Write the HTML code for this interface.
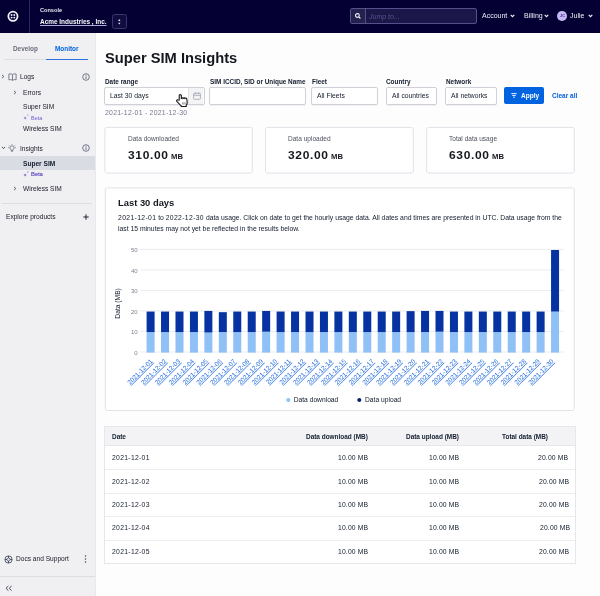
<!DOCTYPE html>
<html><head><meta charset="utf-8">
<style>
*{box-sizing:border-box;margin:0;padding:0}
html,body{width:600px;height:596px;overflow:hidden;background:#fff;font-family:"Liberation Sans",sans-serif;color:#121c2d}
.a{position:absolute;white-space:nowrap;will-change:transform}
#hdr{position:absolute;left:0;top:0;width:600px;height:33.4px;background:#050034}
#side{position:absolute;left:0;top:33px;width:96px;height:563px;background:#f0eff2;border-right:1px solid #e9e8ed}
#main{position:absolute;left:96px;top:33px;width:504px;height:563px;background:#fdfdfd}
.lbl{font-size:6.4px;font-weight:bold;color:#121c2d}
.inp{position:absolute;top:87px;height:18px;border:1px solid #cfd1d9;box-shadow:0 0.5px 1px rgba(0,0,0,0.06);border-radius:2px;background:#fff;font-size:6.8px;color:#121c2d;line-height:14.8px;padding-left:5.5px}
.card{position:absolute;border:1px solid #e1e3ea;border-radius:2px;background:#fff}
.st{font-size:6.55px;color:#4f525f}
.sv{font-size:10px;font-weight:bold;color:#15181f;transform:scaleX(1.2);transform-origin:0 0;letter-spacing:0.55px}
.mb{font-size:6.7px;font-weight:bold;color:#15181f;transform:scaleX(1.15);transform-origin:0 0}
.sb{font-size:7px;color:#3b4357}
.tbl{position:absolute;left:104px;top:426px;width:471.6px;height:138px;border:1px solid #e6e7ec;background:#fff}
</style></head><body>
<!-- HEADER -->
<div id="hdr">
  <svg class="a" style="left:0;top:0" width="28" height="33" viewBox="0 0 28 33">
    <circle cx="12.95" cy="16.3" r="4.6" fill="none" stroke="#f4f3fb" stroke-width="1.8"/>
    <circle cx="11.6" cy="15" r="0.95" fill="#f4f3fb"/><circle cx="14.3" cy="15" r="0.95" fill="#f4f3fb"/>
    <circle cx="11.6" cy="17.6" r="0.95" fill="#f4f3fb"/><circle cx="14.3" cy="17.6" r="0.95" fill="#f4f3fb"/>
  </svg>
  <div class="a" style="left:28.7px;top:0;width:1px;height:33.4px;background:#2b2763"></div>
  <div class="a" style="left:40px;top:6.5px;font-size:5.6px;font-weight:bold;color:#e6e6ee">Console</div>
  <div class="a" style="left:40px;top:18.1px;font-size:6.45px;font-weight:bold;color:#fbfbff;text-decoration:underline;text-decoration-color:#aeabd6;text-decoration-thickness:0.8px;text-underline-offset:1.3px">Acme Industries , Inc.</div>
  <div class="a" style="left:112px;top:14.1px;width:15px;height:15px;border-radius:2.5px;background:#100c40;border:1px solid #3a3670"></div>
  <svg class="a" style="left:117px;top:17.5px" width="5" height="8" viewBox="0 0 5 8"><path d="M2.3 1.1 L3.5 2.9 H1.1 Z M2.3 6.6 L3.5 4.8 H1.1 Z" fill="#e6e5f2"/></svg>
  <!-- search -->
  <div class="a" style="left:349.5px;top:8.3px;width:127px;height:15.6px;border:1px solid #54508a;border-radius:2px;background:#1b1849"></div>
  <div class="a" style="left:350.5px;top:9.3px;width:15.3px;height:13.6px;background:#24214f;border-right:1px solid #54508a"></div>
  <svg class="a" style="left:354px;top:11.8px" width="8" height="8" viewBox="0 0 8 8"><circle cx="3.4" cy="3.5" r="1.9" fill="none" stroke="#f2f1fa" stroke-width="1.1"/><path d="M4.8 4.9 L6.4 6.5" stroke="#f2f1fa" stroke-width="1.1"/></svg>
  <div class="a" style="left:369px;top:12.9px;font-size:7px;font-style:italic;color:#57538a">Jump to...</div>
  <div class="a" style="left:482px;top:12.4px;font-size:7px;color:#ececf4">Account</div>
  <svg class="a" style="left:510px;top:14px" width="5" height="4" viewBox="0 0 5 4"><path d="M0.7 0.9 L2.5 2.7 L4.3 0.9" fill="none" stroke="#f0f0f6" stroke-width="1.15"/></svg>
  <div class="a" style="left:523.5px;top:12.4px;font-size:7px;color:#ececf4">Billing</div>
  <svg class="a" style="left:544px;top:14px" width="5" height="4" viewBox="0 0 5 4"><path d="M0.7 0.9 L2.5 2.7 L4.3 0.9" fill="none" stroke="#f0f0f6" stroke-width="1.15"/></svg>
  <div class="a" style="left:557.4px;top:11.2px;width:9.8px;height:9.8px;border-radius:50%;background:#c6b6f2"></div>
  <div class="a" style="left:559.8px;top:13.9px;font-size:4.2px;line-height:1;font-weight:bold;color:#4a3596">JC</div>
  <div class="a" style="left:570px;top:12.4px;font-size:7px;color:#ececf4">Julie</div>
  <svg class="a" style="left:587.8px;top:14px" width="5" height="4" viewBox="0 0 5 4"><path d="M0.7 0.9 L2.5 2.7 L4.3 0.9" fill="none" stroke="#f0f0f6" stroke-width="1.15"/></svg>
</div>

<!-- SIDEBAR -->
<div id="side"></div>
<!-- SIDEBAR CONTENT -->
<div class="a" style="left:12.5px;top:45.68px;font-size:6.4px;line-height:1;color:#6a6d7c;font-weight:bold;">Develop</div>
<div class="a" style="left:55.2px;top:45.68px;font-size:6.4px;line-height:1;color:#0263e0;font-weight:bold;">Monitor</div>
<div class="a" style="left:4px;top:58.8px;width:42.5px;height:1px;background:#dcdde3"></div>
<div class="a" style="left:46.4px;top:58.5px;width:42px;height:1.4px;background:#2d72df"></div>
<svg class="a" style="left:1.2px;top:74.2px" width="4" height="5" viewBox="0 0 4 5"><path d="M1.1 0.9 L2.8 2.5 L1.1 4.1" fill="none" stroke="#4b5265" stroke-width="1"/></svg>
<svg class="a" style="left:7.5px;top:72.8px" width="9" height="8" viewBox="0 0 9 8"><path d="M4.5 1.5 C3.4 0.8 2.1 0.7 0.9 1 V6.8 C2.1 6.5 3.4 6.6 4.5 7.3 C5.6 6.6 6.9 6.5 8.1 6.8 V1 C6.9 0.7 5.6 0.8 4.5 1.5 Z M4.5 1.5 V7.2" fill="none" stroke="#5b6275" stroke-width="0.8"/></svg>
<div class="a" style="left:20px;top:74.31px;font-size:6.6px;line-height:1;color:#181c28;">Logs</div>
<svg class="a" style="left:81.8px;top:72.70px" width="8" height="8" viewBox="0 0 8 8"><circle cx="4" cy="4" r="3.3" fill="none" stroke="#4b5265" stroke-width="0.75"/><path d="M4 3.5 V5.9" stroke="#4b5265" stroke-width="0.85"/><circle cx="4" cy="2.35" r="0.5" fill="#4b5265"/></svg>
<svg class="a" style="left:13.2px;top:89.8px" width="4" height="5" viewBox="0 0 4 5"><path d="M1.1 0.9 L2.8 2.5 L1.1 4.1" fill="none" stroke="#4b5265" stroke-width="1"/></svg>
<div class="a" style="left:22.5px;top:89.81px;font-size:6.6px;line-height:1;color:#181c28;">Errors</div>
<div class="a" style="left:22.5px;top:103.91px;font-size:6.6px;line-height:1;color:#181c28;">Super SIM</div>
<svg class="a" style="left:22px;top:113.30px" width="8" height="8" viewBox="0 0 8 8"><path d="M3.1 3.3 L3.55 4.55 L4.8 5 L3.55 5.45 L3.1 6.7 L2.65 5.45 L1.4 5 L2.65 4.55Z" fill="#7a68d8"/><path d="M5.9 1.1 L6.15 1.75 L6.8 2 L6.15 2.25 L5.9 2.9 L5.65 2.25 L5 2 L5.65 1.75Z" fill="#7a68d8"/></svg>
<div class="a" style="left:31px;top:116.34px;font-size:5.5px;line-height:1;color:#6f5fd0;">Beta</div>
<div class="a" style="left:22.5px;top:126.41px;font-size:6.6px;line-height:1;color:#181c28;">Wireless SIM</div>
<svg class="a" style="left:0.5px;top:146.2px" width="5" height="4" viewBox="0 0 5 4"><path d="M0.9 0.9 L2.5 2.6 L4.1 0.9" fill="none" stroke="#4b5265" stroke-width="1"/></svg>
<svg class="a" style="left:7.8px;top:144.2px" width="8" height="8.5" viewBox="0 0 8 8.5"><path d="M2.4 4.9 C1.4 3.9 1.7 1.9 4 1.9 C6.3 1.9 6.6 3.9 5.6 4.9 C5.1 5.4 5.1 5.8 5.1 6.3 H2.9 C2.9 5.8 2.9 5.4 2.4 4.9 Z M3.1 7.3 H4.9" fill="none" stroke="#5b6275" stroke-width="0.75"/><path d="M4 0.1 V1 M0.8 1.2 L1.4 1.8 M7.2 1.2 L6.6 1.8 M0 3.6 H0.8 M8 3.6 H7.2" stroke="#5b6275" stroke-width="0.65"/></svg>
<div class="a" style="left:20px;top:145.61px;font-size:6.6px;line-height:1;color:#181c28;">Insights</div>
<svg class="a" style="left:81.8px;top:144.10px" width="8" height="8" viewBox="0 0 8 8"><circle cx="4" cy="4" r="3.3" fill="none" stroke="#4b5265" stroke-width="0.75"/><path d="M4 3.5 V5.9" stroke="#4b5265" stroke-width="0.85"/><circle cx="4" cy="2.35" r="0.5" fill="#4b5265"/></svg>
<div class="a" style="left:0;top:155.7px;width:95px;height:13.6px;background:#dadce4"></div>
<div class="a" style="left:22.5px;top:160.91px;font-size:6.6px;line-height:1;color:#121c2d;font-weight:bold;">Super SIM</div>
<svg class="a" style="left:22px;top:169.50px" width="8" height="8" viewBox="0 0 8 8"><path d="M3.1 3.3 L3.55 4.55 L4.8 5 L3.55 5.45 L3.1 6.7 L2.65 5.45 L1.4 5 L2.65 4.55Z" fill="#6a52c8"/><path d="M5.9 1.1 L6.15 1.75 L6.8 2 L6.15 2.25 L5.9 2.9 L5.65 2.25 L5 2 L5.65 1.75Z" fill="#6a52c8"/></svg>
<div class="a" style="left:31px;top:172.04px;font-size:5.5px;line-height:1;color:#5a42bc;font-weight:bold;">Beta</div>
<svg class="a" style="left:13.2px;top:186.3px" width="4" height="5" viewBox="0 0 4 5"><path d="M1.1 0.9 L2.8 2.5 L1.1 4.1" fill="none" stroke="#4b5265" stroke-width="1"/></svg>
<div class="a" style="left:22.5px;top:186.31px;font-size:6.6px;line-height:1;color:#181c28;">Wireless SIM</div>
<div class="a" style="left:2px;top:203px;width:89.5px;height:1px;background:#dcdde3"></div>
<div class="a" style="left:5.5px;top:214.41px;font-size:6.6px;line-height:1;color:#181c28;">Explore products</div>
<svg class="a" style="left:82.5px;top:214px" width="6" height="6" viewBox="0 0 6 6"><path d="M3 0.3 V5.7 M0.3 3 H5.7" stroke="#121c2d" stroke-width="0.95"/></svg>
<svg class="a" style="left:3.5px;top:554.5px" width="9" height="9" viewBox="0 0 9 9"><circle cx="4.5" cy="4.5" r="3.6" fill="none" stroke="#4b5265" stroke-width="0.9"/><circle cx="4.5" cy="4.5" r="1.5" fill="none" stroke="#4b5265" stroke-width="0.8"/><path d="M4.5 1 V3 M4.5 6 V8 M1 4.5 H3 M6 4.5 H8" stroke="#4b5265" stroke-width="1"/></svg>
<div class="a" style="left:16px;top:556.2px;font-size:6.6px;line-height:1;color:#181c28;">Docs and Support</div>
<svg class="a" style="left:84px;top:555px" width="3" height="8" viewBox="0 0 3 8"><circle cx="1.5" cy="1.1" r="0.75" fill="#3f4557"/><circle cx="1.5" cy="4" r="0.75" fill="#3f4557"/><circle cx="1.5" cy="6.9" r="0.75" fill="#3f4557"/></svg>
<div class="a" style="left:0;top:575.5px;width:95px;height:1px;background:#dcdde3"></div>
<svg class="a" style="left:4.5px;top:585px" width="8" height="7" viewBox="0 0 8 7"><path d="M3.4 1 L1 3.3 L3.4 5.6 M6.6 1 L4.2 3.3 L6.6 5.6" fill="none" stroke="#3f4557" stroke-width="0.95"/></svg>

<!-- MAIN -->
<div id="main"></div>
<!-- MAIN CONTENT -->
<div class="a" style="left:105px;top:50.9px;font-size:14.7px;line-height:1;font-weight:bold;color:#14171f">Super SIM Insights</div>
<div class="a lbl" style="left:105px;top:78.8px;line-height:1">Date range</div>
<div class="a lbl" style="left:210px;top:78.8px;line-height:1">SIM ICCID, SID or Unique Name</div>
<div class="a lbl" style="left:311.7px;top:78.8px;line-height:1">Fleet</div>
<div class="a lbl" style="left:386.3px;top:78.8px;line-height:1">Country</div>
<div class="a lbl" style="left:445.5px;top:78.8px;line-height:1">Network</div>

<div class="inp" style="left:104px;width:100.5px"></div>
<div class="a" style="left:188.3px;top:88px;width:15.2px;height:16px;background:#f4f4f6;border-left:1px solid #e1e3ea"></div>
<svg class="a" style="left:192.5px;top:92px" width="8" height="8" viewBox="0 0 8 8"><rect x="0.6" y="1.3" width="6.8" height="6" rx="0.8" fill="none" stroke="#9ea2b0" stroke-width="0.8"/><path d="M0.6 3.3 H7.4 M2.3 0.3 V2 M5.7 0.3 V2" stroke="#9ea2b0" stroke-width="0.8"/></svg>
<div class="a" style="left:110px;top:93.2px;font-size:6.8px;line-height:1;color:#121c2d">Last 30 days</div>
<div class="inp" style="left:209.3px;width:96.4px"></div>
<div class="inp" style="left:311px;width:67.3px"></div>
<div class="a" style="left:317.3px;top:93.2px;font-size:6.75px;line-height:1">All Fleets</div>
<div class="inp" style="left:386.3px;width:50.7px"></div>
<div class="a" style="left:392.3px;top:93.2px;font-size:6.75px;line-height:1">All countries</div>
<div class="inp" style="left:445px;width:51.5px"></div>
<div class="a" style="left:451px;top:93.2px;font-size:6.75px;line-height:1">All networks</div>
<div class="a" style="left:503.7px;top:87px;width:40.3px;height:17.3px;border-radius:2px;background:#0263e0"></div>
<svg class="a" style="left:511px;top:93px" width="6" height="5" viewBox="0 0 6 5"><path d="M0.3 0.6 H5.7 M1.2 2.4 H4.8 M2.1 4.2 H3.9" stroke="#fff" stroke-width="0.9"/></svg>
<div class="a" style="left:520.7px;top:93.2px;font-size:6.5px;line-height:1;font-weight:bold;color:#fff">Apply</div>
<div class="a" style="left:552px;top:93.2px;font-size:6.5px;line-height:1;font-weight:bold;color:#0263e0">Clear all</div>
<svg class="a" style="left:176.4px;top:94.2px" width="13" height="14" viewBox="0 0 13 14"><path d="M3.2 6.2 V1.6 C3.2 0.3 5.3 0.3 5.3 1.6 V4.6 C5.5 3.5 7 3.5 7.1 4.6 C7.3 3.6 8.8 3.6 8.9 4.7 C9.1 3.8 10.7 3.8 10.8 5 L11.2 8.4 C11.2 9.9 10.7 10.7 10.2 11.4 V12.5 H5.2 V11.7 C4.2 10.9 2.4 8.9 1 7.6 C0.1 6.7 0.9 5.4 2.1 6 Z" fill="#fff" stroke="#151515" stroke-width="1.1" stroke-linejoin="round"/><path d="M6.6 8.3 V10.6 M7.9 8.3 V10.6 M9.2 8.3 V10.6" stroke="#666" stroke-width="0.65"/></svg>
<div class="a" style="left:105px;top:109.8px;font-size:6.9px;line-height:1;color:#767b8e;letter-spacing:0.25px">2021-12-01 - 2021-12-30</div>

<svg class="a" style="left:0;top:0" width="600" height="596" viewBox="0 0 600 596"><rect x="104.9" y="127.4" width="147.40" height="45.65" rx="2" fill="#fff" stroke="#e0e2e8" stroke-width="1"/><rect x="265.6" y="127.4" width="147.70" height="45.65" rx="2" fill="#fff" stroke="#e0e2e8" stroke-width="1"/><rect x="426.7" y="127.4" width="147.60" height="45.65" rx="2" fill="#fff" stroke="#e0e2e8" stroke-width="1"/></svg>
<div class="a st" style="left:128px;top:136.44px;line-height:1">Data downloaded</div>
<div class="a st" style="left:288.2px;top:136.44px;line-height:1">Data uploaded</div>
<div class="a st" style="left:449.3px;top:136.44px;line-height:1">Total data usage</div>
<div class="a sv" style="left:128.0px;top:150.93px;line-height:1">310.00</div>
<div class="a mb" style="left:170.90px;top:153.53px;line-height:1">MB</div>
<div class="a sv" style="left:288.1px;top:150.93px;line-height:1">320.00</div>
<div class="a mb" style="left:331.00px;top:153.53px;line-height:1">MB</div>
<div class="a sv" style="left:449.1px;top:150.93px;line-height:1">630.00</div>
<div class="a mb" style="left:492.00px;top:153.53px;line-height:1">MB</div>

<svg class="a" style="left:0;top:0" width="600" height="596" viewBox="0 0 600 596"><rect x="105.3" y="187.9" width="469.00" height="222.55" rx="2" fill="#fff" stroke="#e0e2e8" stroke-width="1"/></svg>
<div class="a" style="left:117.5px;top:198.3px;font-size:9.4px;line-height:1;font-weight:bold;color:#14171f">Last 30 days</div>
<div class="a" style="left:117.5px;top:212.9px;font-size:6.8px;line-height:10.8px;color:#121c2d;white-space:normal;width:450px"><span style="letter-spacing:0.35px">2021-12-01</span> to <span style="letter-spacing:0.35px">2022-12-30</span> data usage. Click on date to get the hourly usage data. All dates and times are presented in UTC. Data usage from the last 15 minutes may not yet be reflected in the results below.</div>
<!--CHART--><svg class="a" style="left:0;top:0" width="600" height="596" viewBox="0 0 600 596">
<line x1="140" y1="352.00" x2="564" y2="352.00" stroke="#ebecef" stroke-width="1"/>
<text x="137.6" y="354.70" text-anchor="end" font-size="6" fill="#7d818d">0</text>
<line x1="140" y1="331.48" x2="564" y2="331.48" stroke="#ebecef" stroke-width="1"/>
<text x="137.6" y="334.18" text-anchor="end" font-size="6" fill="#7d818d">10</text>
<line x1="140" y1="310.96" x2="564" y2="310.96" stroke="#ebecef" stroke-width="1"/>
<text x="137.6" y="313.66" text-anchor="end" font-size="6" fill="#7d818d">20</text>
<line x1="140" y1="290.44" x2="564" y2="290.44" stroke="#ebecef" stroke-width="1"/>
<text x="137.6" y="293.14" text-anchor="end" font-size="6" fill="#7d818d">30</text>
<line x1="140" y1="269.92" x2="564" y2="269.92" stroke="#ebecef" stroke-width="1"/>
<text x="137.6" y="272.62" text-anchor="end" font-size="6" fill="#7d818d">40</text>
<line x1="140" y1="249.40" x2="564" y2="249.40" stroke="#ebecef" stroke-width="1"/>
<text x="137.6" y="252.10" text-anchor="end" font-size="6" fill="#7d818d">50</text>
<text transform="translate(119.8,303.4) rotate(-90)" text-anchor="middle" font-size="6.7" fill="#121c2d">Data (MB)</text>
<rect x="146.60" y="332.08" width="8" height="20.52" fill="#8fc0f6"/>
<rect x="146.60" y="311.56" width="8" height="20.52" fill="#0632a2"/>
<rect x="161.04" y="332.08" width="8" height="20.52" fill="#8fc0f6"/>
<rect x="161.04" y="311.56" width="8" height="20.52" fill="#0632a2"/>
<rect x="175.49" y="332.08" width="8" height="20.52" fill="#8fc0f6"/>
<rect x="175.49" y="311.56" width="8" height="20.52" fill="#0632a2"/>
<rect x="189.94" y="332.08" width="8" height="20.52" fill="#8fc0f6"/>
<rect x="189.94" y="311.56" width="8" height="20.52" fill="#0632a2"/>
<rect x="204.38" y="332.49" width="8" height="20.11" fill="#8fc0f6"/>
<rect x="204.38" y="310.94" width="8" height="21.55" fill="#0632a2"/>
<rect x="218.82" y="332.08" width="8" height="20.52" fill="#8fc0f6"/>
<rect x="218.82" y="312.18" width="8" height="19.90" fill="#0632a2"/>
<rect x="233.27" y="332.08" width="8" height="20.52" fill="#8fc0f6"/>
<rect x="233.27" y="311.56" width="8" height="20.52" fill="#0632a2"/>
<rect x="247.72" y="332.08" width="8" height="20.52" fill="#8fc0f6"/>
<rect x="247.72" y="311.56" width="8" height="20.52" fill="#0632a2"/>
<rect x="262.16" y="331.67" width="8" height="20.93" fill="#8fc0f6"/>
<rect x="262.16" y="310.94" width="8" height="20.73" fill="#0632a2"/>
<rect x="276.61" y="332.08" width="8" height="20.52" fill="#8fc0f6"/>
<rect x="276.61" y="311.56" width="8" height="20.52" fill="#0632a2"/>
<rect x="291.05" y="332.08" width="8" height="20.52" fill="#8fc0f6"/>
<rect x="291.05" y="311.56" width="8" height="20.52" fill="#0632a2"/>
<rect x="305.50" y="332.08" width="8" height="20.52" fill="#8fc0f6"/>
<rect x="305.50" y="311.56" width="8" height="20.52" fill="#0632a2"/>
<rect x="319.94" y="332.08" width="8" height="20.52" fill="#8fc0f6"/>
<rect x="319.94" y="311.56" width="8" height="20.52" fill="#0632a2"/>
<rect x="334.38" y="332.08" width="8" height="20.52" fill="#8fc0f6"/>
<rect x="334.38" y="311.56" width="8" height="20.52" fill="#0632a2"/>
<rect x="348.83" y="332.08" width="8" height="20.52" fill="#8fc0f6"/>
<rect x="348.83" y="311.56" width="8" height="20.52" fill="#0632a2"/>
<rect x="363.27" y="332.08" width="8" height="20.52" fill="#8fc0f6"/>
<rect x="363.27" y="311.56" width="8" height="20.52" fill="#0632a2"/>
<rect x="377.72" y="332.08" width="8" height="20.52" fill="#8fc0f6"/>
<rect x="377.72" y="311.56" width="8" height="20.52" fill="#0632a2"/>
<rect x="392.16" y="332.08" width="8" height="20.52" fill="#8fc0f6"/>
<rect x="392.16" y="311.56" width="8" height="20.52" fill="#0632a2"/>
<rect x="406.61" y="332.08" width="8" height="20.52" fill="#8fc0f6"/>
<rect x="406.61" y="311.15" width="8" height="20.93" fill="#0632a2"/>
<rect x="421.05" y="332.08" width="8" height="20.52" fill="#8fc0f6"/>
<rect x="421.05" y="310.94" width="8" height="21.14" fill="#0632a2"/>
<rect x="435.50" y="331.67" width="8" height="20.93" fill="#8fc0f6"/>
<rect x="435.50" y="310.94" width="8" height="20.73" fill="#0632a2"/>
<rect x="449.95" y="332.08" width="8" height="20.52" fill="#8fc0f6"/>
<rect x="449.95" y="311.56" width="8" height="20.52" fill="#0632a2"/>
<rect x="464.39" y="332.08" width="8" height="20.52" fill="#8fc0f6"/>
<rect x="464.39" y="311.56" width="8" height="20.52" fill="#0632a2"/>
<rect x="478.84" y="332.08" width="8" height="20.52" fill="#8fc0f6"/>
<rect x="478.84" y="311.56" width="8" height="20.52" fill="#0632a2"/>
<rect x="493.28" y="332.08" width="8" height="20.52" fill="#8fc0f6"/>
<rect x="493.28" y="311.56" width="8" height="20.52" fill="#0632a2"/>
<rect x="507.73" y="332.08" width="8" height="20.52" fill="#8fc0f6"/>
<rect x="507.73" y="311.56" width="8" height="20.52" fill="#0632a2"/>
<rect x="522.17" y="332.08" width="8" height="20.52" fill="#8fc0f6"/>
<rect x="522.17" y="311.56" width="8" height="20.52" fill="#0632a2"/>
<rect x="536.62" y="332.08" width="8" height="20.52" fill="#8fc0f6"/>
<rect x="536.62" y="311.56" width="8" height="20.52" fill="#0632a2"/>
<rect x="551.06" y="311.56" width="8" height="41.04" fill="#8fc0f6"/>
<rect x="551.06" y="250.00" width="8" height="61.56" fill="#0632a2"/>
<text transform="translate(153.00,361.8) rotate(-45)" text-anchor="end" font-size="6.4" fill="#2a70e0" text-decoration="underline">2021-12-01</text>
<text transform="translate(166.83,361.8) rotate(-45)" text-anchor="end" font-size="6.4" fill="#2a70e0" text-decoration="underline">2021-12-02</text>
<text transform="translate(180.66,361.8) rotate(-45)" text-anchor="end" font-size="6.4" fill="#2a70e0" text-decoration="underline">2021-12-03</text>
<text transform="translate(194.49,361.8) rotate(-45)" text-anchor="end" font-size="6.4" fill="#2a70e0" text-decoration="underline">2021-12-04</text>
<text transform="translate(208.32,361.8) rotate(-45)" text-anchor="end" font-size="6.4" fill="#2a70e0" text-decoration="underline">2021-12-05</text>
<text transform="translate(222.15,361.8) rotate(-45)" text-anchor="end" font-size="6.4" fill="#2a70e0" text-decoration="underline">2021-12-06</text>
<text transform="translate(235.98,361.8) rotate(-45)" text-anchor="end" font-size="6.4" fill="#2a70e0" text-decoration="underline">2021-12-07</text>
<text transform="translate(249.81,361.8) rotate(-45)" text-anchor="end" font-size="6.4" fill="#2a70e0" text-decoration="underline">2021-12-08</text>
<text transform="translate(263.64,361.8) rotate(-45)" text-anchor="end" font-size="6.4" fill="#2a70e0" text-decoration="underline">2021-12-09</text>
<text transform="translate(277.47,361.8) rotate(-45)" text-anchor="end" font-size="6.4" fill="#2a70e0" text-decoration="underline">2021-12-10</text>
<text transform="translate(291.30,361.8) rotate(-45)" text-anchor="end" font-size="6.4" fill="#2a70e0" text-decoration="underline">2021-12-11</text>
<text transform="translate(305.13,361.8) rotate(-45)" text-anchor="end" font-size="6.4" fill="#2a70e0" text-decoration="underline">2021-12-12</text>
<text transform="translate(318.96,361.8) rotate(-45)" text-anchor="end" font-size="6.4" fill="#2a70e0" text-decoration="underline">2021-12-13</text>
<text transform="translate(332.79,361.8) rotate(-45)" text-anchor="end" font-size="6.4" fill="#2a70e0" text-decoration="underline">2021-12-14</text>
<text transform="translate(346.62,361.8) rotate(-45)" text-anchor="end" font-size="6.4" fill="#2a70e0" text-decoration="underline">2021-12-15</text>
<text transform="translate(360.45,361.8) rotate(-45)" text-anchor="end" font-size="6.4" fill="#2a70e0" text-decoration="underline">2021-12-16</text>
<text transform="translate(374.28,361.8) rotate(-45)" text-anchor="end" font-size="6.4" fill="#2a70e0" text-decoration="underline">2021-12-17</text>
<text transform="translate(388.11,361.8) rotate(-45)" text-anchor="end" font-size="6.4" fill="#2a70e0" text-decoration="underline">2021-12-18</text>
<text transform="translate(401.94,361.8) rotate(-45)" text-anchor="end" font-size="6.4" fill="#2a70e0" text-decoration="underline">2021-12-19</text>
<text transform="translate(415.77,361.8) rotate(-45)" text-anchor="end" font-size="6.4" fill="#2a70e0" text-decoration="underline">2021-12-20</text>
<text transform="translate(429.60,361.8) rotate(-45)" text-anchor="end" font-size="6.4" fill="#2a70e0" text-decoration="underline">2021-12-21</text>
<text transform="translate(443.43,361.8) rotate(-45)" text-anchor="end" font-size="6.4" fill="#2a70e0" text-decoration="underline">2021-12-22</text>
<text transform="translate(457.26,361.8) rotate(-45)" text-anchor="end" font-size="6.4" fill="#2a70e0" text-decoration="underline">2021-12-23</text>
<text transform="translate(471.09,361.8) rotate(-45)" text-anchor="end" font-size="6.4" fill="#2a70e0" text-decoration="underline">2021-12-24</text>
<text transform="translate(484.92,361.8) rotate(-45)" text-anchor="end" font-size="6.4" fill="#2a70e0" text-decoration="underline">2021-12-25</text>
<text transform="translate(498.75,361.8) rotate(-45)" text-anchor="end" font-size="6.4" fill="#2a70e0" text-decoration="underline">2021-12-26</text>
<text transform="translate(512.58,361.8) rotate(-45)" text-anchor="end" font-size="6.4" fill="#2a70e0" text-decoration="underline">2021-12-27</text>
<text transform="translate(526.41,361.8) rotate(-45)" text-anchor="end" font-size="6.4" fill="#2a70e0" text-decoration="underline">2021-12-28</text>
<text transform="translate(540.24,361.8) rotate(-45)" text-anchor="end" font-size="6.4" fill="#2a70e0" text-decoration="underline">2021-12-29</text>
<text transform="translate(554.07,361.8) rotate(-45)" text-anchor="end" font-size="6.4" fill="#2a70e0" text-decoration="underline">2021-12-30</text>
<circle cx="288.3" cy="400" r="2" fill="#8fc0f6"/>
<text x="293.7" y="402.3" font-size="6.7" fill="#121c2d">Data download</text>
<circle cx="359.3" cy="400" r="2" fill="#0a1a70"/>
<text x="365" y="402.3" font-size="6.7" fill="#121c2d">Data upload</text>
</svg><!--/CHART-->

<div class="tbl"></div>
<!--TABLE--><div class="a" style="left:105px;top:427px;width:469.6px;height:19.2px;background:#f3f3f6;border-bottom:1px solid #e6e7ec"></div>
<div class="a" style="top:433.94px;font-size:6.45px;line-height:1;color:#121c2d;font-weight:bold;left:112.00px;">Date</div>
<div class="a" style="top:433.94px;font-size:6.45px;line-height:1;color:#121c2d;font-weight:bold;right:232.10px;">Data download (MB)</div>
<div class="a" style="top:433.94px;font-size:6.45px;line-height:1;color:#121c2d;font-weight:bold;right:140.70px;">Data upload (MB)</div>
<div class="a" style="top:433.94px;font-size:6.45px;line-height:1;color:#121c2d;font-weight:bold;left:502.00px;">Total data (MB)</div>
<div class="a" style="left:105px;top:469.30px;width:469.6px;height:1px;background:#ededf1"></div>
<div class="a" style="left:105px;top:492.70px;width:469.6px;height:1px;background:#ededf1"></div>
<div class="a" style="left:105px;top:516.10px;width:469.6px;height:1px;background:#ededf1"></div>
<div class="a" style="left:105px;top:539.50px;width:469.6px;height:1px;background:#ededf1"></div>
<div class="a" style="top:455.29px;font-size:6.8px;line-height:1;color:#121c2d;letter-spacing:0.3px;left:112.00px;">2021-12-01</div>
<div class="a" style="top:455.29px;font-size:6.8px;line-height:1;color:#121c2d;letter-spacing:0.15px;right:232.10px;">10.00 MB</div>
<div class="a" style="top:455.29px;font-size:6.8px;line-height:1;color:#121c2d;letter-spacing:0.15px;right:140.70px;">10.00 MB</div>
<div class="a" style="top:455.29px;font-size:6.8px;line-height:1;color:#121c2d;letter-spacing:0.15px;right:31.80px;">20.00 MB</div>
<div class="a" style="top:478.69px;font-size:6.8px;line-height:1;color:#121c2d;letter-spacing:0.3px;left:112.00px;">2021-12-02</div>
<div class="a" style="top:478.69px;font-size:6.8px;line-height:1;color:#121c2d;letter-spacing:0.15px;right:232.10px;">10.00 MB</div>
<div class="a" style="top:478.69px;font-size:6.8px;line-height:1;color:#121c2d;letter-spacing:0.15px;right:140.70px;">10.00 MB</div>
<div class="a" style="top:478.69px;font-size:6.8px;line-height:1;color:#121c2d;letter-spacing:0.15px;right:30.70px;">20.00 MB</div>
<div class="a" style="top:502.09px;font-size:6.8px;line-height:1;color:#121c2d;letter-spacing:0.3px;left:112.00px;">2021-12-03</div>
<div class="a" style="top:502.09px;font-size:6.8px;line-height:1;color:#121c2d;letter-spacing:0.15px;right:232.10px;">10.00 MB</div>
<div class="a" style="top:502.09px;font-size:6.8px;line-height:1;color:#121c2d;letter-spacing:0.15px;right:140.70px;">10.00 MB</div>
<div class="a" style="top:502.09px;font-size:6.8px;line-height:1;color:#121c2d;letter-spacing:0.15px;right:30.60px;">20.00 MB</div>
<div class="a" style="top:525.49px;font-size:6.8px;line-height:1;color:#121c2d;letter-spacing:0.3px;left:112.00px;">2021-12-04</div>
<div class="a" style="top:525.49px;font-size:6.8px;line-height:1;color:#121c2d;letter-spacing:0.15px;right:232.10px;">10.00 MB</div>
<div class="a" style="top:525.49px;font-size:6.8px;line-height:1;color:#121c2d;letter-spacing:0.15px;right:140.70px;">10.00 MB</div>
<div class="a" style="top:525.49px;font-size:6.8px;line-height:1;color:#121c2d;letter-spacing:0.15px;right:29.70px;">20.00 MB</div>
<div class="a" style="top:549.29px;font-size:6.8px;line-height:1;color:#121c2d;letter-spacing:0.3px;left:112.00px;">2021-12-05</div>
<div class="a" style="top:549.29px;font-size:6.8px;line-height:1;color:#121c2d;letter-spacing:0.15px;right:232.10px;">10.00 MB</div>
<div class="a" style="top:549.29px;font-size:6.8px;line-height:1;color:#121c2d;letter-spacing:0.15px;right:140.70px;">10.00 MB</div>
<div class="a" style="top:549.29px;font-size:6.8px;line-height:1;color:#121c2d;letter-spacing:0.15px;right:30.70px;">20.00 MB</div><!--/TABLE-->

</body></html>
